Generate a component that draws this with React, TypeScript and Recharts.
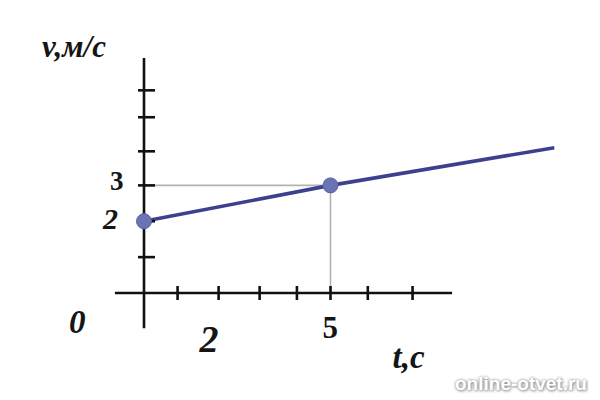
import React from "react";
import { LineChart, Line, XAxis, YAxis, ReferenceLine, ReferenceDot } from "recharts";

// data: v(t) in м/с vs t in с
const times = [0, 5, 11];
const speeds = [2, 3, 4.05];
const xTickValues = [0.9, 2, 3.1, 4.1, 5, 6, 7.2];
const yTickValues = [1, 2, 3, 3.95, 4.9, 5.65];
const markedPoints = [
  { t: 0, v: 2 },
  { t: 5, v: 3 },
];

const data = times.map((t, i) => ({ t, v: speeds[i] }));

const W = 600;
const H = 400;
const X_DOMAIN: [number, number] = [-3, 12];
const Y_DOMAIN: [number, number] = [-2, 7];
const ORIGIN_X = 144;
const ORIGIN_Y = 293;
const PX_X = 37.3;
const PX_Y = 35.87;
const margin = {
  left: ORIGIN_X + X_DOMAIN[0] * PX_X,
  right: W - (ORIGIN_X + X_DOMAIN[1] * PX_X),
  top: ORIGIN_Y - Y_DOMAIN[1] * PX_Y,
  bottom: H - (ORIGIN_Y - Y_DOMAIN[0] * PX_Y),
};

const serif = "'Liberation Serif', 'Times New Roman', serif";

const textShape =
  (label: string, dx: number, dy: number, size: number, italic: boolean, weight: string) =>
  (props: any) =>
    (
      <text
        x={props.cx + dx}
        y={props.cy + dy}
        fontFamily={serif}
        fontSize={size}
        fontStyle={italic ? "italic" : "normal"}
        fontWeight={weight}
        fill="#151515"
      >
        {label}
      </text>
    );

const xTickShape = (props: any) => (
  <line x1={props.cx} x2={props.cx} y1={props.cy - 7} y2={props.cy + 7} stroke="#111" strokeWidth={2.6} />
);
const yTickShape = (props: any) => (
  <line x1={props.cx - 6} x2={props.cx + 11} y1={props.cy} y2={props.cy} stroke="#111" strokeWidth={2.6} />
);

export default function App() {
  return (
    <div style={{ position: "absolute", left: 0, top: 0, width: W, height: H, background: "#fff" }}>
      <LineChart width={W} height={H} data={data} margin={margin}>
        <XAxis type="number" dataKey="t" domain={X_DOMAIN} hide allowDataOverflow />
        <YAxis type="number" domain={Y_DOMAIN} hide allowDataOverflow />
        {/* guide lines */}
        <ReferenceLine segment={[{ x: 0, y: 3 }, { x: 5, y: 3 }]} stroke="#b3b3b3" strokeWidth={1.6} />
        <ReferenceLine segment={[{ x: 5, y: 3 }, { x: 5, y: 0 }]} stroke="#b3b3b3" strokeWidth={1.6} />
        {/* axes */}
        <ReferenceLine segment={[{ x: -0.78, y: 0 }, { x: 8.26, y: 0 }]} stroke="#111" strokeWidth={2.6} />
        <ReferenceLine segment={[{ x: 0, y: -0.98 }, { x: 0, y: 6.55 }]} stroke="#111" strokeWidth={2.6} />
        {xTickValues.map((x) => (
          <ReferenceDot key={"xt" + x} x={x} y={0} r={1} shape={xTickShape} />
        ))}
        {yTickValues.map((y) => (
          <ReferenceDot key={"yt" + y} x={0} y={y} r={1} shape={yTickShape} />
        ))}
        <Line
          type="linear"
          dataKey="v"
          stroke="#3c418f"
          strokeWidth={3.6}
          dot={false}
          activeDot={false}
          isAnimationActive={false}
        />
        {markedPoints.map((p) => (
          <ReferenceDot key={"p" + p.t} x={p.t} y={p.v} r={7.5} fill="#6a73b3" stroke="#5a62a6" strokeWidth={1} />
        ))}
        {/* labels */}
        <ReferenceDot x={0} y={6.55} r={1} shape={textShape("v,м/с", -102, -1, 31, true, "bold")} />
        <ReferenceDot x={0} y={3} r={1} shape={textShape("3", -34, 5, 27, false, "bold")} />
        <ReferenceDot x={0} y={2} r={1} shape={textShape("2", -41, 8, 30, true, "bold")} />
        <ReferenceDot x={0} y={0} r={1} shape={textShape("0", -75, 40, 33, true, "bold")} />
        <ReferenceDot x={2} y={0} r={1} shape={textShape("2", -19, 59, 38, true, "bold")} />
        <ReferenceDot x={5} y={0} r={1} shape={textShape("5", -8, 45, 31, false, "bold")} />
        <ReferenceDot x={7.2} y={0} r={1} shape={textShape("t,c", -20, 75, 33, true, "bold")} />
      </LineChart>
      <div
        style={{
          position: "absolute",
          left: 455,
          top: 373,
          fontFamily: "'Liberation Sans', Arial, sans-serif",
          fontWeight: "bold",
          fontSize: 19,
          color: "#fff",
          textShadow: "0 0 3px #888, 1px 1px 3px #999",
        }}
      >
        online-otvet.ru
      </div>
    </div>
  );
}
